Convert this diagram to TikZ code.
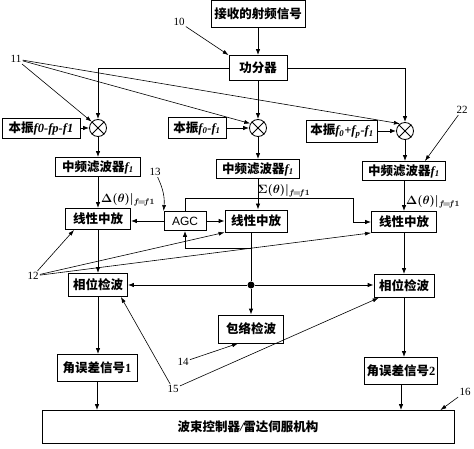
\documentclass[tikz,border=0pt]{standalone}
\usepackage{fontspec}
\setmainfont{Liberation Serif}
\newfontfamily\cjk{Noto Sans CJK SC}
\newfontfamily\agcfont{Liberation Sans}
\usetikzlibrary{arrows.meta}
\newcommand{\lat}[1]{{\rmfamily\bfseries\itshape #1}}
\newcommand{\sigval}[1]{{\boldmath$#1(\theta)\vert_{f\!=\!f1}$}}

\begin{document}
\begin{tikzpicture}[x=1pt,y=-1pt,line width=0.8pt,
	block_node/.style={draw,inner sep=0pt,font=\cjk\bfseries\fontsize{12.5}{14}\selectfont},
	mix_node/.style={circle,draw,minimum size=17pt,inner sep=0pt},
	dot_node/.style={circle,fill,minimum size=7pt,inner sep=0pt},
	tag_node/.style={font=\fontsize{11}{12}\selectfont,inner sep=1pt},
	sig_node/.style={font=\fontsize{12}{14}\selectfont,inner sep=0pt},
	flow/.style={-{Latex[length=6pt,width=4.5pt]}},
	thin_flow/.style={line width=0.6pt,-{Latex[length=6pt,width=4pt]}}]
		
		\useasboundingbox (0,0) rectangle (474,449);
		
		\node[block_node,minimum width=94pt,minimum height=27pt] (rf) at (258,14) {接收的射频信号};
		\node[block_node,minimum width=58pt,minimum height=25pt] (split) at (258,68) {功分器};
		\node[mix_node] (mix1) at (98,128) {};
		\node[mix_node] (mix2) at (258,128) {};
		\node[mix_node] (mix3) at (405,131) {};
		\node[block_node,minimum width=78pt,minimum height=20pt] (lo1) at (41,128) {本振\lat{f0-fp-f1}};
		\node[block_node,minimum width=58pt,minimum height=21pt] (lo2) at (197,128) {本振\lat{f\textsubscript{0}-f\textsubscript{1}}};
		\node[block_node,minimum width=71pt,minimum height=22pt] (lo3) at (342,131) {本振\lat{f\textsubscript{0}+f\textsubscript{p}-f\textsubscript{1}}};
		\node[block_node,minimum width=85pt,minimum height=19pt] (if1) at (98,167) {中频滤波器\lat{f\textsubscript{1}}};
		\node[block_node,minimum width=83pt,minimum height=19pt] (if2) at (258,169) {中频滤波器\lat{f\textsubscript{1}}};
		\node[block_node,minimum width=83pt,minimum height=19pt] (if3) at (404,171) {中频滤波器\lat{f\textsubscript{1}}};
		\node[block_node,minimum width=65pt,minimum height=21pt] (amp1) at (98,219) {线性中放};
		\node[block_node,minimum width=62pt,minimum height=22pt] (amp2) at (256,221) {线性中放};
		\node[block_node,minimum width=65pt,minimum height=21pt] (amp3) at (404,222) {线性中放};
		\node[block_node,minimum width=42pt,minimum height=19pt,font=\agcfont\fontsize{12}{14}\selectfont] (agc) at (185,221) {AGC};
		\node[block_node,minimum width=59pt,minimum height=23pt] (pd1) at (98,285) {相位检波};
		\node[block_node,minimum width=60pt,minimum height=23pt] (pd2) at (404,286) {相位检波};
		\node[dot_node] (hub) at (251,285) {};
		\node[block_node,minimum width=65pt,minimum height=28pt] (env) at (251,329) {包络检波};
		\node[block_node,minimum width=80pt,minimum height=27pt] (err1) at (97,368) {角误差信号{\rmfamily\bfseries 1}};
		\node[block_node,minimum width=73pt,minimum height=27pt] (err2) at (401,371) {角误差信号{\rmfamily\bfseries 2}};
		\node[block_node,minimum width=412pt,minimum height=33pt] (servo) at (248,427) {波束控制器\lat{/}雷达伺服机构};
		
		\node[sig_node] (sig1) at (128,200) {\sigval{\Delta}};
		\node[sig_node] (sig2) at (284,191) {\sigval{\Sigma}};
		\node[sig_node] (sig3) at (433,202) {\sigval{\Delta}};
		
		\coordinate (loop) at (353,198);
		\coordinate (tap) at (251,248);
		
		\draw[flow] (rf) -- (split);
		\draw[flow] (split.west) -| (mix1.north);
		\draw[flow] (split.south) -- (mix2.north);
		\draw[flow] (split.east) -| (mix3.north);
		\draw[flow] (lo1) -- (mix1);
		\draw[flow] (lo2) -- (mix2);
		\draw[flow] (lo3) -- (mix3);
		\draw (mix1.45) -- (mix1.225);
		\draw (mix1.135) -- (mix1.315);
		\draw (mix2.45) -- (mix2.225);
		\draw (mix2.135) -- (mix2.315);
		\draw (mix3.45) -- (mix3.225);
		\draw (mix3.135) -- (mix3.315);
		\draw[flow] (mix1) -- (if1);
		\draw[flow] (mix2) -- (if2);
		\draw[flow] (mix3.south) -- (mix3.south |- if3.north);
		\draw[flow] (if1) -- (amp1);
		\draw[flow] (if2.south) -- (if2.south |- amp2.north);
		\draw[flow] (if3) -- (amp3);
		\draw[flow] (agc.west) -- (agc.west -| amp1.east);
		\draw[flow] (agc.east) -- (agc.east -| amp2.west);
		\draw[flow] (agc.north) |- (loop) |- (amp3.west);
		\draw ([xshift=-5pt]amp2.south) -- (hub);
		\draw[flow] (tap) -| (agc.south);
		\draw[flow] (hub) -- (env);
		\draw[flow] (hub) -- (hub -| pd1.east);
		\draw[flow] (hub) -- (hub -| pd2.west);
		\draw[flow] (amp1) -- (pd1);
		\draw[flow] (amp3) -- (pd2);
		\draw[flow] (pd1.south) -- (pd1.south |- err1.north);
		\draw[flow] (pd2.south) -- (pd2.south |- err2.north);
		\draw[flow] (err1.south) -- (err1.south |- servo.north);
		\draw[flow] (err2.south) -- (err2.south |- servo.north);
		
		\node[tag_node] (t10) at (179,22) {10};
		\node[tag_node] (t11) at (16,59) {11};
		\node[tag_node] (t12) at (33,276) {12};
		\node[tag_node] (t13) at (155,172) {13};
		\node[tag_node] (t14) at (183,362) {14};
		\node[tag_node] (t15) at (173,389) {15};
		\node[tag_node] (t16) at (465,392) {16};
		\node[tag_node] (t22) at (462,110) {22};
		
		\draw[thin_flow] (t10) -- (split.north west);
		\draw[thin_flow] (t11) -- (mix1.135);
		\draw[thin_flow] (t11) -- (mix2.150);
		\draw[thin_flow] (t11) -- (mix3.125);
		\draw[thin_flow] (t12) -- ([xshift=9pt]amp1.south west);
		\draw[thin_flow] (t12) -- (amp2.south west);
		\draw[thin_flow] (t12) -- (amp3.south west);
		\draw[thin_flow] (t13) to[bend left=15] (agc.north west);
		\draw[thin_flow] (t14) -- ([xshift=20pt]env.south west);
		\draw[thin_flow] (t15) -- ([xshift=-7pt]pd1.south east);
		\draw[thin_flow] (t15) -- ([xshift=5pt]pd2.south west);
		\draw[thin_flow] (t16) -- ([xshift=-14pt]servo.north east);
		\draw[thin_flow] (t22) -- ([xshift=-21pt]if3.north east);
		\end{tikzpicture}
\end{document}
